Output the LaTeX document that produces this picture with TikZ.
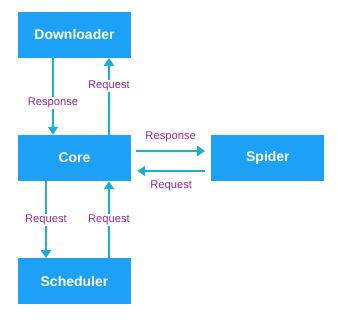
\documentclass[tikz,border=0pt]{standalone}
\usepackage{fontspec}
\setmainfont{Liberation Sans}
\usetikzlibrary{positioning,arrows.meta}

\definecolor{boxblue}{RGB}{29,161,246}
\definecolor{flowcyan}{RGB}{27,174,212}
\definecolor{labelpurple}{RGB}{150,42,150}

\begin{document}
\begin{tikzpicture}[x=1pt, y=1pt, >={Triangle[width=10pt,length=8pt]},
  node distance=77pt and 80pt,
  unit/.style={fill=boxblue, text=white, font=\fontsize{14}{16}\selectfont\bfseries,
    minimum width=113pt, minimum height=46pt, inner sep=0pt},
  flow/.style={->, draw=flowcyan, line width=2.6pt},
  tag/.style={text=labelpurple, font=\fontsize{11.2}{13}\selectfont, fill=white,
    inner sep=1pt}]
  \useasboundingbox (0,0) rectangle (338,-329);
  \node[unit] (core) at (74.5,-158) {Core};
  \node[unit, above=of core] (dl)    {Downloader};
  \node[unit, below=of core] (sched) {Scheduler};
  \node[unit, right=of core] (spider) {Spider};
  % downloader <-> core
  \draw[flow] ([xshift=-21.5pt]dl.south) -- node[tag, pos=0.59] {Response} ([xshift=-21.5pt]core.north);
  \draw[flow] ([xshift=34.5pt]core.north) -- node[tag, pos=0.63] {Request} ([xshift=34.5pt]dl.south);
  % core <-> spider
  \draw[flow] ([xshift=5pt,yshift=7pt]core.east) -- node[tag, yshift=14.5pt] {Response} ([xshift=-6pt,yshift=7pt]spider.west);
  \draw[flow] ([xshift=-6pt,yshift=-13pt]spider.west) -- node[tag, yshift=-15pt] {Request} ([xshift=6pt,yshift=-13pt]core.east);
  % core <-> scheduler
  \draw[flow] ([xshift=-28.5pt]core.south) -- node[tag, pos=0.5] {Request} ([xshift=-28.5pt]sched.north);
  \draw[flow] ([xshift=34.5pt]sched.north) -- node[tag, pos=0.5] {Request} ([xshift=34.5pt]core.south);
\end{tikzpicture}
\end{document}
